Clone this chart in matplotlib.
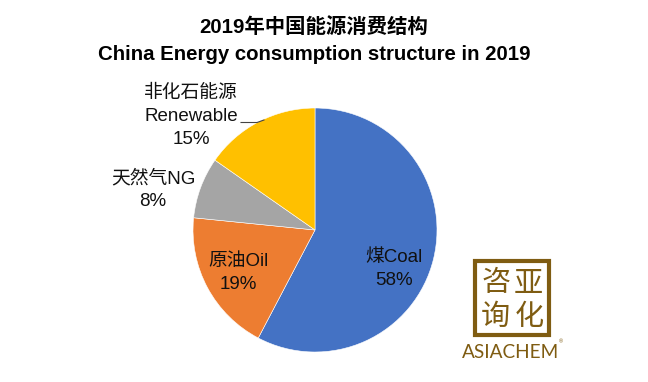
import matplotlib
matplotlib.use('Agg')
import matplotlib.pyplot as plt
from matplotlib.patches import Rectangle

plt.rcParams['font.family'] = ['Liberation Sans', 'Noto Sans CJK SC', 'DejaVu Sans']

labels = ['煤Coal', '原油Oil', '天然气NG', '非化石能源\nRenewable']
values = [57.7, 18.9, 8.1, 15.3]
colors = ['#4472C4', '#ED7D31', '#A5A5A5', '#FFC000']
title_cn = '2019年中国能源消费结构'
title_en = 'China Energy consumption structure in 2019'
logo_chars = ['咨', '亚', '询', '化']
logo_name = 'ASIACHEM'
brown = '#7F5C12'
H = 382

fig = plt.figure(figsize=(6.48, 3.82), dpi=100)
ax = fig.add_axes([0, 0, 1, 1])

ax.pie(values, colors=colors, startangle=90, counterclock=False, center=(315, H - 230), radius=122,
       wedgeprops=dict(edgecolor='white', linewidth=0.4), frame=True)
ax.set_xlim(0, 648)
ax.set_ylim(0, H)
ax.set_aspect('auto')
ax.axis('off')

# titles
ax.text(314, H - 26.5, title_cn, ha='center', va='center', fontsize=14.7, fontweight='bold', color='black')
ax.text(314, H - 54.5, title_en, ha='center', va='center', fontsize=14.7, fontweight='bold', color='black')

# slice labels
lab_pos = [(394, 269), (238, 273), (153, 190), (191, 116.5)]
for lab, v, p in zip(labels, values, lab_pos):
    ax.text(p[0], H - p[1], f'{lab}\n{round(v)}%', ha='center', va='center', fontsize=13.5, color='#111111', linespacing=1.48)

# leader line
ax.plot([241, 257, 264], [H - 122.5, H - 122.5, H - 120], color='#444444', lw=0.8)

# logo
ax.add_patch(Rectangle((474.5, H - 335), 74, 74, fill=False, edgecolor=brown, lw=3))
char_pos = [(496, 283), (528, 284), (495, 317), (529, 317)]
for c, p in zip(logo_chars, char_pos):
    ax.text(p[0], H - p[1], c, ha='center', va='center', fontsize=21, color=brown, fontfamily=['Noto Sans CJK SC'])
ax.text(510.5, H - 352, logo_name, ha='center', va='center', fontsize=13.7, color=brown, fontfamily=['Lato'])
ax.text(561, H - 342, '®', ha='center', va='center', fontsize=4, color=brown)

fig.savefig('out.png', dpi=100)
